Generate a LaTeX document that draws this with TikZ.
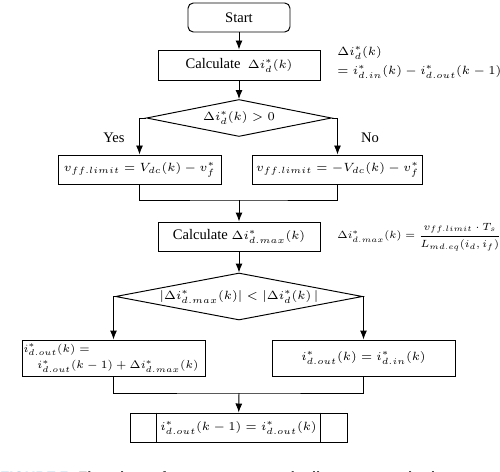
\RequirePackage{fix-cm}
\documentclass[tikz,border=0pt]{standalone}
\usepackage{amsmath}
\usepackage{fontspec}
\setmainfont{Liberation Serif}
\newfontfamily\capfont{Liberation Sans}
\usetikzlibrary{arrows.meta,positioning,shapes.geometric}
\DeclareMathSizes{8.3}{6.8}{5.1}{4.0}
\DeclareMathSizes{7.9}{6.3}{4.8}{3.8}
\definecolor{capblue}{RGB}{32,122,182}
\tikzset{
  box/.style={draw,line width=0.55pt,minimum height=5.8mm,inner sep=2pt,align=center},
  term/.style={box,rounded corners=3pt},
  decision/.style={draw,line width=0.55pt,diamond,shape aspect=5,inner sep=0pt},
  arrow/.style={-{Latex[length=1.8mm,width=1.4mm]},line width=0.55pt},
  link/.style={line width=0.55pt},
  note/.style={align=left,inner sep=0pt},
  capfnt/.style={font=\fontsize{8.4}{10}\selectfont\capfont\bfseries}
}

\begin{document}
\begin{tikzpicture}[font=\fontsize{8.3}{10}\selectfont]
  \useasboundingbox (0,0) rectangle (10,-9.42);
  % main column
  \node[term,minimum width=20.4mm] (start) at (4.78,-0.35) {Start};
  \node[box,minimum width=32.4mm,minimum height=6mm] (calc1) at (4.78,-1.3)
    {Calculate~ $\Delta i_d^*(k)$};
  \node[note,anchor=north west] (note1) at (6.74,-0.92)
    {$\Delta i_d^*(k)$\\[1pt]$= i_{d.in}^*(k)-i_{d.out}^*(k-1)$};
  \node[decision,minimum width=37mm,minimum height=7.4mm] (dec1) at (4.78,-2.36)
    {$\Delta i_d^*(k) > 0$};
  \node (yes) at (2.28,-2.76) {Yes};
  \node (no) at (7.4,-2.76) {No};
  \node[box,minimum width=32.6mm] (lim1) at (2.79,-3.39)
    {$v_{ff.limit} = V_{dc}(k) - v_f^*$};
  \node[box,minimum width=32.6mm] (lim2) at (6.75,-3.39)
    {$v_{ff.limit} = -V_{dc}(k) - v_f^*$};
  \coordinate (join1) at (4.78,-4.0);
  \node[box,minimum width=32.4mm] (calc2) at (4.78,-4.73)
    {Calculate $\Delta i_{d.max}^*(k)$};
  \node[note,anchor=west] (note2) at (6.74,-4.74)
    {\resizebox{3.27cm}{!}{$\Delta i_{d.max}^*(k) = \dfrac{v_{ff.limit}\cdot T_s}{L_{md.eq}(i_d,i_f)}$}};
  \node[decision,minimum width=49.4mm,minimum height=9.4mm] (dec2) at (4.78,-5.93)
    {$|\Delta i_{d.max}^*(k)| < |\Delta i_d^*(k)\,|$};
  \node[box,minimum width=36.6mm,minimum height=7.2mm,text width=36mm,align=left,inner xsep=0.3mm,
        font=\fontsize{7.9}{9.5}\selectfont] (out1) at (2.27,-7.16)
    {$i_{d.out}^*(k) =$\\\hspace*{1em}$i_{d.out}^*(k-1) + \Delta i_{d.max}^*(k)$};
  \node[box,minimum width=36.6mm,minimum height=7.2mm] (out2) at (7.27,-7.16)
    {$i_{d.out}^*(k) = i_{d.in}^*(k)$};
  \coordinate (join2) at (4.78,-7.86);
  \node[box,minimum width=43.4mm] (upd) at (4.77,-8.55)
    {$i_{d.out}^*(k-1) = i_{d.out}^*(k)$};
  \draw[link] ([xshift=5.4mm]upd.north west) -- ([xshift=5.4mm]upd.south west);
  \draw[link] ([xshift=-5.4mm]upd.north east) -- ([xshift=-5.4mm]upd.south east);

  % connectors
  \draw[arrow] (start) -- (calc1);
  \draw[arrow] (calc1) -- (dec1);
  \draw[arrow] (dec1.west) -| (lim1.north);
  \draw[arrow] (dec1.east) -| (lim2.north);
  \draw[link] (lim1.south) |- (join1) -| (lim2.south);
  \draw[arrow] (join1) -- (calc2);
  \draw[arrow] (calc2) -- (dec2);
  \draw[arrow] (dec2.west) -| (out1.north);
  \draw[arrow] (dec2.east) -| (out2.north);
  \draw[link] (out1.south) |- (join2) -| (out2.south);
  \draw[arrow] (join2) -- (upd);

  % caption, cut by the page edge
  \node[capfnt,text=capblue,anchor=base west,inner sep=0pt] (fig) at (0,-9.65) {FIGURE 7.};
  \node[capfnt,anchor=base west,inner sep=0pt] (caption) at (1.56,-9.65)
    {Flowchart of current command adjustment method.};
\end{tikzpicture}
\end{document}
